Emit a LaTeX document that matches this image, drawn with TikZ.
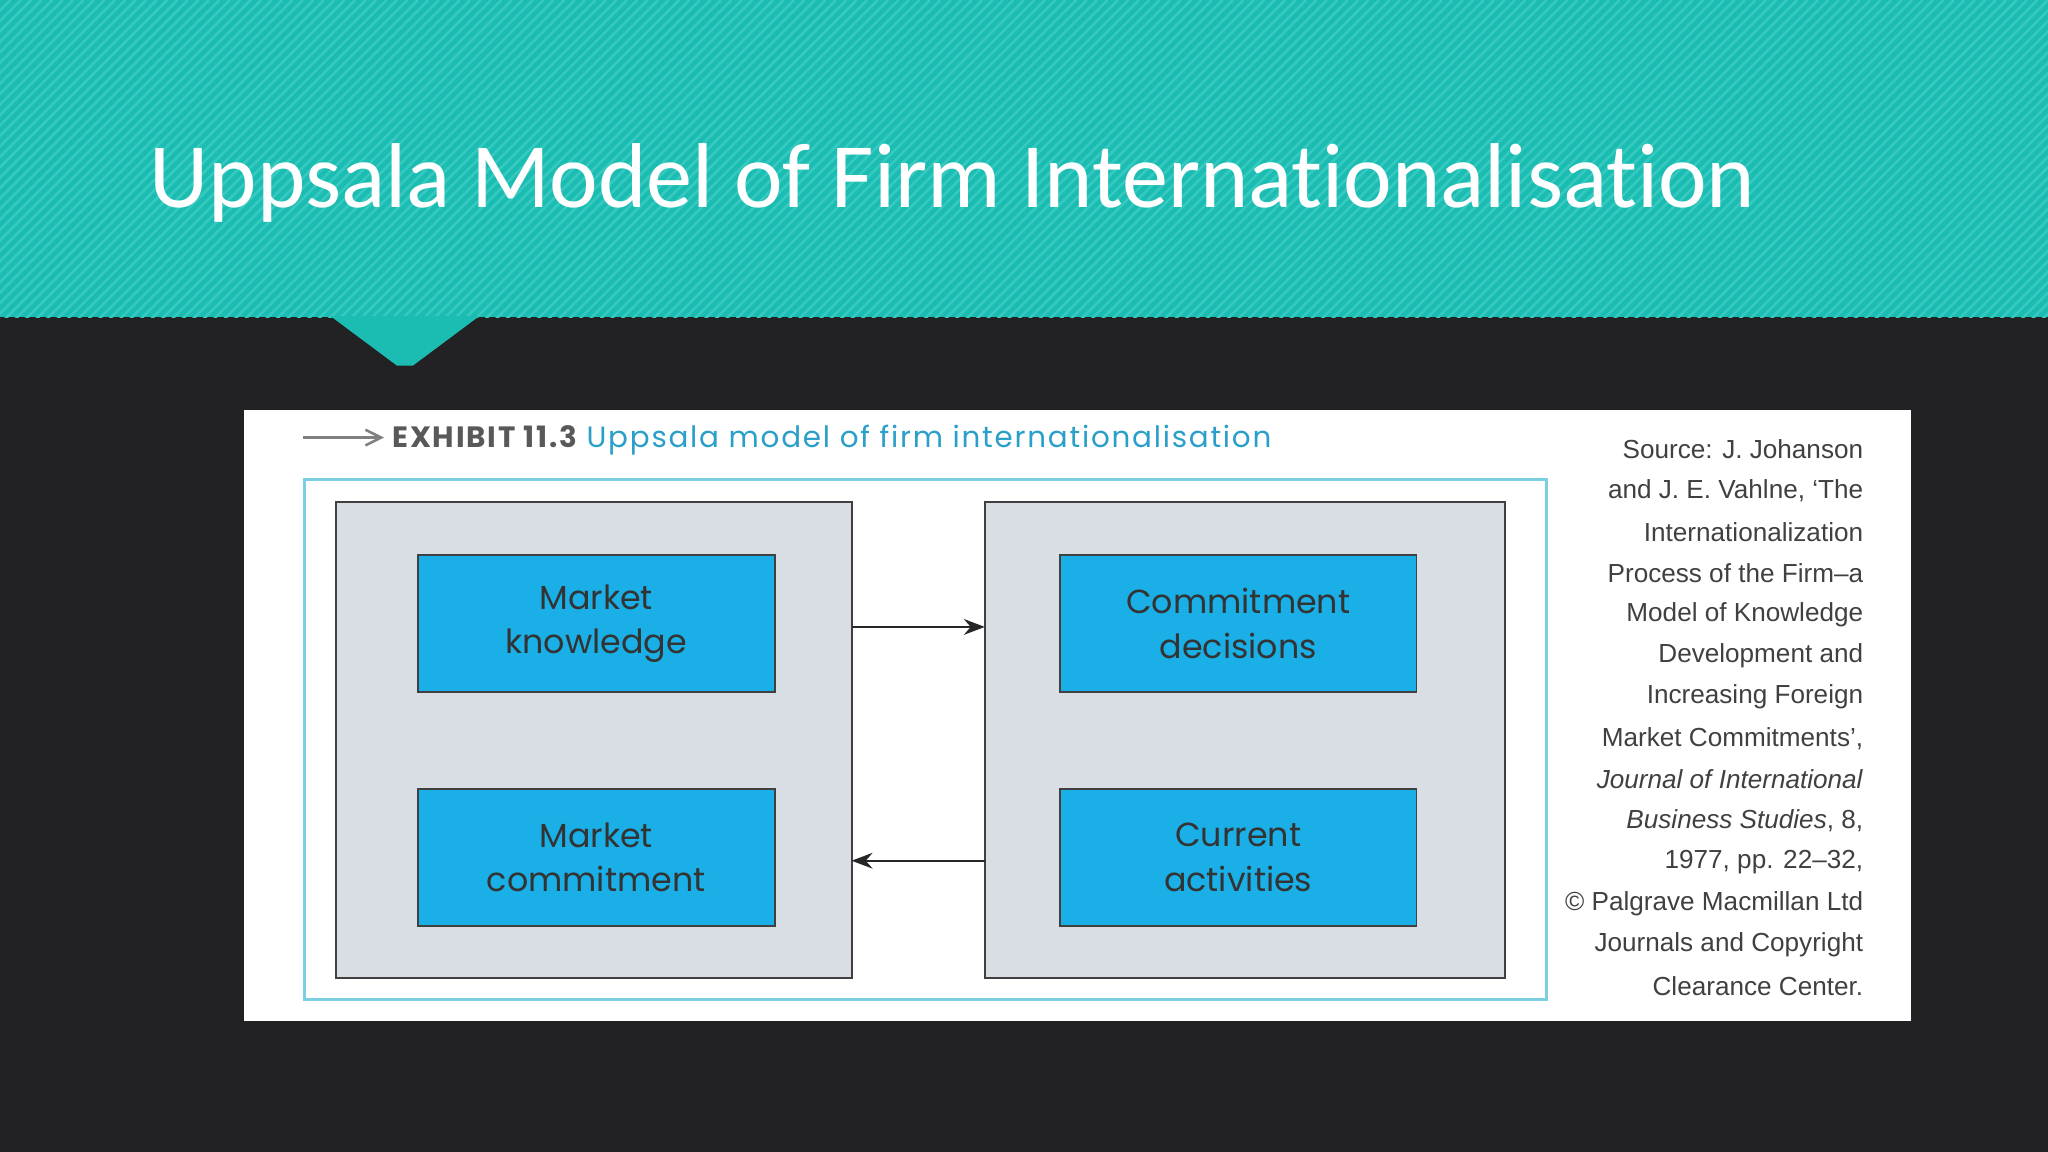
\documentclass[tikz,border=0pt]{standalone}
\usepackage{fontspec}
\setmainfont{Carlito}[Ligatures=NoCommon]
\newfontfamily\boxfont{Poppins}
\newfontfamily\exhfont{Poppins}[LetterSpace=6]
\newfontfamily\srcfont{Liberation Sans}
\usetikzlibrary{arrows.meta}
\definecolor{hdteal}{HTML}{1BBDB2}
\definecolor{tealstripe}{HTML}{35C9BF}
\definecolor{dark}{HTML}{222224}
\definecolor{grayfill}{HTML}{D8DEE4}
\definecolor{bluebox}{HTML}{1AAFE6}
\definecolor{frame}{HTML}{7CCFE0}
\definecolor{exh}{HTML}{2A9FC9}
\tikzset{
  graybox/.style={draw=black!75,line width=1.5pt,fill=grayfill},
  bluebx/.style={draw=black!75,line width=1.5pt,fill=bluebox,minimum width=273pt,minimum height=105pt,align=center,font=\boxfont\fontsize{25.5}{34}\selectfont,text=black!80},
  link/.style={draw=black!85,line width=1.8pt,-{Stealth[length=16pt,width=12pt]}},
  srcline/.style={anchor=east,font=\srcfont\fontsize{20}{24}\selectfont,text=black!75}
}
\begin{document}
\begin{tikzpicture}[x=1pt,y=-1pt]
\useasboundingbox (0,0) rectangle (1568,882);
\fill[dark] (0,0) rectangle (1568,882);
\fill[hdteal] (0,0) rectangle (1568,243);
\begin{scope}
\clip (0,0) rectangle (1568,243);
\foreach \i in {0,8,...,1830}{\draw[tealstripe,line width=2pt] (\i-250,250) -- (\i,0);}
\end{scope}
\fill[hdteal] (253,242) -- (367,242) -- (316,280) -- (304,280) -- cycle;
\node[anchor=west,text=white,font=\fontsize{70.5}{84}\selectfont] (title) at (111,140) {Uppsala Model of Firm Internationalisation};
\fill[white] (187,314) rectangle (1463,782);
\coordinate (a0) at (232,335); \coordinate (a1) at (294,335);
\draw[gray,line width=2pt,-{Straight Barb[length=12pt,width=12pt]}] (a0) -- (a1);
\node[anchor=west,font=\exhfont\fontsize{22.5}{24}\selectfont] (exh) at (297,337) {\textcolor{black!65}{\bfseries EXHIBIT 11.3} \textcolor{exh}{Uppsala model of firm internationalisation}};
\draw[frame,line width=2.5pt] (233,367) rectangle (1184,765);
\draw[graybox] (257,384) rectangle (652,749);
\draw[graybox] (754,384) rectangle (1152,749);
\coordinate (L1) at (652,480); \coordinate (R1) at (754,480);
\coordinate (L2) at (652,659); \coordinate (R2) at (754,659);
\node[bluebx] (mk) at (456.5,477.5) {Market\\knowledge};
\node[bluebx] (mc) at (456.5,656.5) {Market\\commitment};
\node[bluebx] (cd) at (948,477.5) {Commitment\\decisions};
\node[bluebx] (ca) at (948,656.5) {Current\\activities};
\draw[link] (L1) -- (R1);
\draw[link] (R2) -- (L2);
\foreach \t [count=\k from 0] in {Source: J. Johanson,and J. E. Vahlne{,} ‘The,Internationalization,Process of the Firm–a,Model of Knowledge,Development and,Increasing Foreign,Market Commitments’{,},\textit{Journal of International},\textit{Business Studies}{,} 8{,},1977{,} pp. 22–32{,},© Palgrave Macmillan Ltd,Journals and Copyright,Clearance Center.}
  \node[srcline] (s\k) at (1430,344+31.6*\k) {\t};
\end{tikzpicture}
\end{document}
